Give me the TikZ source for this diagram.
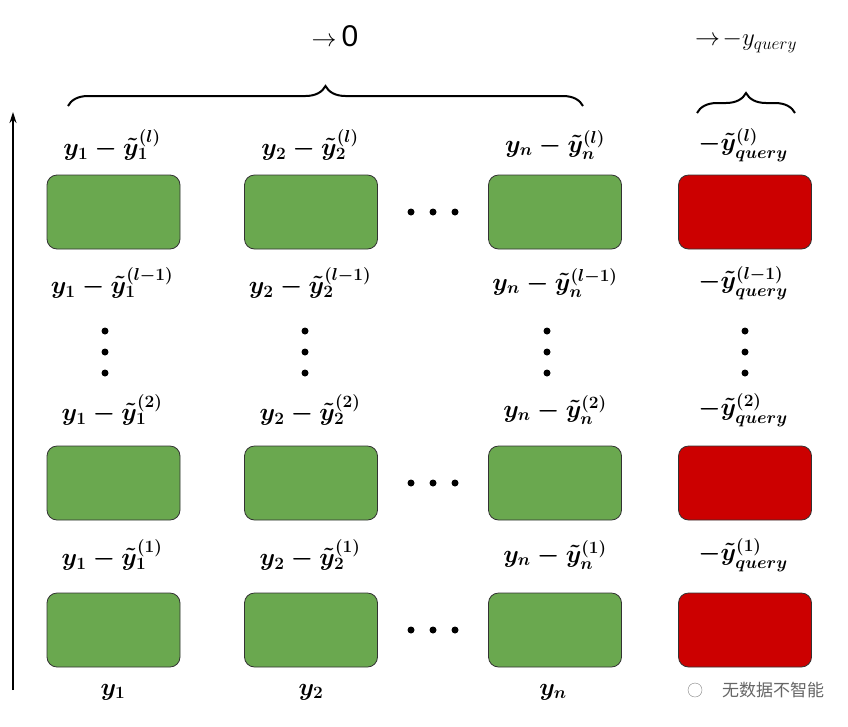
\documentclass[tikz,border=0pt]{standalone}
\usepackage{fontspec}
\newfontfamily\cjk{Noto Sans CJK SC}
\newfontfamily\sans{Liberation Sans}
\usetikzlibrary{decorations.pathreplacing,arrows.meta}
\begin{document}
\begin{tikzpicture}[x=1pt,y=-1pt,
  gbox/.style={draw=black!80,line width=0.8pt,rounded corners=10pt,fill={rgb,255:red,106;green,168;blue,79},minimum width=133pt,minimum height=74pt,inner sep=0pt},
  rbox/.style={gbox,fill={rgb,255:red,204;green,0;blue,0}},
  lab/.style={font=\fontsize{26}{26}\selectfont\boldmath,inner sep=0pt},
  vd/.style={fill=black,circle,inner sep=0pt,minimum size=7pt},
  brace/.style={decorate,decoration={brace,amplitude=20pt},line width=2pt}]
\useasboundingbox (0,0) rectangle (848,726);
\fill[white] (0,0) rectangle (848,726);
% boxes
\foreach \r/\y in {t/212,m/483,b/630}{
  \node[gbox] (g1\r) at (113.5,\y) {};
  \node[gbox] (g2\r) at (311,\y) {};
  \node[gbox] (g3\r) at (555,\y) {};
  \node[rbox] (r\r) at (745,\y) {};
  \foreach \xx in {411,433,455}{\node[vd] at (\xx,\y) {};}
}
% vertical dots
\foreach \xx in {105,305,547,745}{
  \foreach \yy in {331,352,373}{\node[vd] at (\xx,\yy) {};}
}
% labels
\node[lab] (lt1) at (112,145) {$y_1-\tilde y_1^{(l)}$};
\node[lab] (lt2) at (310,145) {$y_2-\tilde y_2^{(l)}$};
\node[lab] (lt3) at (555,145) {$y_n-\tilde y_n^{(l)}$};
\node[lab] (lt4) at (743,145) {$-\tilde y_{query}^{(l)}$};
\node[lab] (la1) at (112,283) {$y_1-\tilde y_1^{(l-1)}$};
\node[lab] (la2) at (310,283) {$y_2-\tilde y_2^{(l-1)}$};
\node[lab] (la3) at (555,283) {$y_n-\tilde y_n^{(l-1)}$};
\node[lab] (la4) at (743,283) {$-\tilde y_{query}^{(l-1)}$};
\node[lab] (lb1) at (112,410) {$y_1-\tilde y_1^{(2)}$};
\node[lab] (lb2) at (310,410) {$y_2-\tilde y_2^{(2)}$};
\node[lab] (lb3) at (555,410) {$y_n-\tilde y_n^{(2)}$};
\node[lab] (lb4) at (743,410) {$-\tilde y_{query}^{(2)}$};
\node[lab] (lc1) at (112,555) {$y_1-\tilde y_1^{(1)}$};
\node[lab] (lc2) at (310,555) {$y_2-\tilde y_2^{(1)}$};
\node[lab] (lc3) at (555,555) {$y_n-\tilde y_n^{(1)}$};
\node[lab] (lc4) at (743,555) {$-\tilde y_{query}^{(1)}$};
\node[lab] (y1) at (113,692) {$y_1$};
\node[lab] (y2) at (311,692) {$y_2$};
\node[lab] (yn) at (553,692) {$y_n$};
% arrow
\coordinate (a0) at (13,690);
\coordinate (a1) at (13,112);
\draw[-{Stealth[length=11pt,width=7pt]},line width=1.5pt] (a0) -- (a1);
% braces
\coordinate (b1) at (68,106); \coordinate (b2) at (583,106);
\draw[brace] (b1) -- (b2);
\node[font=\sans\fontsize{30}{30}\selectfont] (z) at (335,36) {$\rightarrow$\,0};
\coordinate (c1) at (697,113); \coordinate (c2) at (795,113);
\draw[brace] (c1) -- (c2);
\node[font=\fontsize{24}{24}\selectfont] (q) at (746,42) {$\rightarrow\! -y_{query}$};
% watermark
\node[font=\cjk\fontsize{17}{17}\selectfont,text=black!60] (wm) at (773,690) {无数据不智能};
\node[draw=black!50,circle,minimum size=14pt,inner sep=0pt] (ic) at (695,690) {};
\end{tikzpicture}
\end{document}
